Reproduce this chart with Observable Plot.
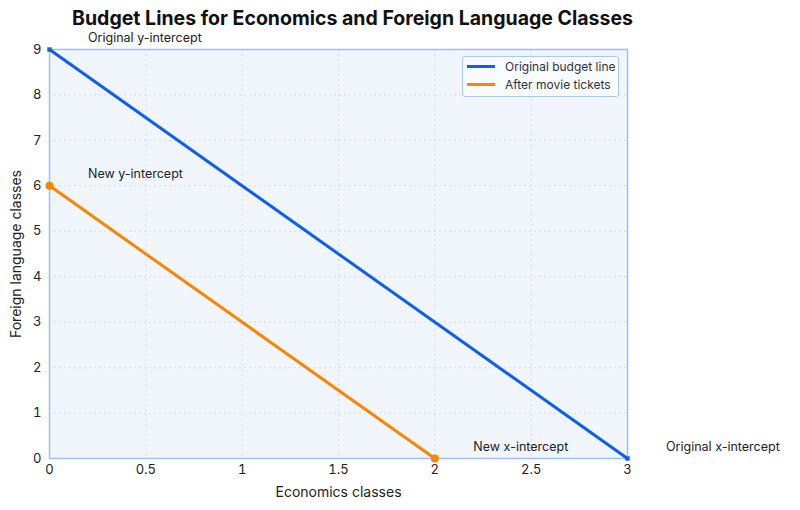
<!DOCTYPE html>
<html><head><meta charset="utf-8">
<script src="https://cdn.jsdelivr.net/npm/d3@7"></script>
<script src="https://cdn.jsdelivr.net/npm/@observablehq/plot@0.6"></script>
<style>
body{margin:0;background:#fff;font-family:Inter,"Noto Sans",sans-serif;}
#wrap{position:relative;width:800px;height:510px;}
#legend{position:absolute;left:462px;top:56px;width:157px;height:41px;border:1px solid #aac8f5;border-radius:3px;background:rgba(248,251,255,0.95);font-size:12px;color:#333;box-sizing:border-box;}
#legend .row{position:absolute;left:0;display:flex;align-items:center;}
#legend .sw{width:28px;height:3px;margin-left:4px;margin-right:10px;}
</style></head>
<body><div id="wrap"></div>
<script>
const econ = [0, 3];
const foreignOriginal = [9, 0];
const foreignAfter = [6, 0];
const seriesNames = ["Original budget line", "After movie tickets"];
const colors = ["#0d5ef2", "#ff8400"];
const annotations = [
  {x: 0, y: 9, label: "Original y-intercept"},
  {x: 0, y: 6, label: "New y-intercept"},
  {x: 2, y: 0, label: "New x-intercept"},
  {x: 3, y: 0, label: "Original x-intercept"}
];
const xTicks = [0, 0.5, 1, 1.5, 2, 2.5, 3];
const yTicks = [0, 1, 2, 3, 4, 5, 6, 7, 8, 9];

const original = econ.map((e, i) => ({x: e, y: foreignOriginal[i]}));
const after = [{x: 0, y: foreignAfter[0]}, {x: 2, y: foreignAfter[1]}];

const chart = Plot.plot({
  width: 800, height: 510,
  marginTop: 49, marginBottom: 52, marginLeft: 49, marginRight: 173,
  style: {fontFamily: "Inter, 'Noto Sans', sans-serif", fontSize: "13px", color: "#222", background: "#fff"},
  x: {domain: [0, 3], ticks: xTicks, tickFormat: d => String(d), tickSize: 0, tickPadding: 6, label: "Economics classes", labelAnchor: "center", labelArrow: "none", labelOffset: 38},
  y: {domain: [0, 9], ticks: yTicks, tickFormat: d => String(d), tickSize: 0, tickPadding: 8, label: "Foreign language classes", labelAnchor: "center", labelArrow: "none", labelOffset: 38},
  marks: [
    Plot.frame({fill: "#f1f6fd", stroke: "none"}),
    Plot.gridX(xTicks, {stroke: "#c9d3e0", strokeOpacity: 0.8, strokeDasharray: "2,3"}),
    Plot.gridY(yTicks, {stroke: "#c9d3e0", strokeOpacity: 0.8, strokeDasharray: "2,3"}),
    Plot.frame({stroke: "#9cc0f7", strokeWidth: 1.5}),
    Plot.line(original, {x: "x", y: "y", stroke: colors[0], strokeWidth: 3}),
    Plot.dot(original, {x: "x", y: "y", fill: colors[0], r: 2.5, symbol: "square"}),
    Plot.line(after, {x: "x", y: "y", stroke: colors[1], strokeWidth: 3}),
    Plot.dot(after, {x: "x", y: "y", fill: colors[1], r: 4}),
    Plot.text(annotations, {x: d => d.x + 0.2, y: d => d.y + 0.3, text: "label", textAnchor: "start", fontSize: 12.5, fill: "#222", dy: 2}),
    Plot.text(["Budget Lines for Economics and Foreign Language Classes"], {frameAnchor: "top", lineAnchor: "middle", dx: 14, dy: -31, fontSize: 19.5, fontWeight: "bold", fill: "#111"})
  ]
});
chart.querySelectorAll('[aria-label="x-axis label"] text, [aria-label="y-axis label"] text').forEach(t => t.style.fontSize = "14px");
const wrap = document.getElementById("wrap");
wrap.appendChild(chart);
const leg = document.createElement("div");
leg.id = "legend";
seriesNames.forEach((n, i) => {
  const row = document.createElement("div");
  row.className = "row";
  row.style.top = (i === 0 ? 2 : 20) + "px";
  row.innerHTML = `<span class="sw" style="background:${colors[i]}"></span><span>${n}</span>`;
  leg.appendChild(row);
});
wrap.appendChild(leg);
</script></body></html>
